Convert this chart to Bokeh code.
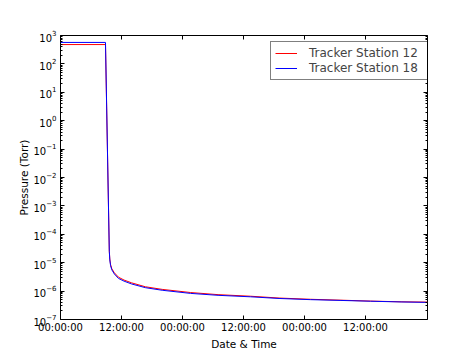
import pandas as pd
from bokeh.plotting import figure
from bokeh.models import (Range1d, LinearAxis, LogAxis, FixedTicker, DatetimeTickFormatter,
                          Legend, LegendItem, ColumnDataSource, CustomJSTickFormatter)
from bokeh.embed import file_html
from bokeh.resources import INLINE

start = pd.Timestamp("2015-03-10 00:00:00")

# Tracker Station 12 (red)
t12_hours = [0.0, 8.85, 9.6, 9.7, 9.85, 10.1, 10.6, 11.4, 12.5, 14.0, 16.7, 20.0, 25.6,
             31.0, 37.4, 43.0, 49.2, 55.0, 61.0, 67.0, 72.2]
p12 = [480, 480, 2.6e-5, 1.35e-5, 8.6e-6, 6.1e-6, 4.4e-6, 3.1e-6, 2.45e-6, 1.95e-6,
       1.42e-6, 1.15e-6, 8.9e-7, 7.5e-7, 6.6e-7, 5.7e-7, 5.15e-7, 4.8e-7, 4.45e-7,
       4.2e-7, 4.1e-7]

# Tracker Station 18 (blue)
t18_hours = [0.0, 8.85, 9.6, 9.7, 9.85, 10.1, 10.6, 11.4, 12.5, 14.0, 16.7, 20.0, 25.6,
             31.0, 37.4, 43.0, 49.2, 55.0, 61.0, 67.0, 72.2]
p18 = [570, 570, 2.5e-5, 1.26e-5, 7.9e-6, 5.6e-6, 4.0e-6, 2.8e-6, 2.24e-6, 1.78e-6,
       1.32e-6, 1.07e-6, 8.3e-7, 7.1e-7, 6.3e-7, 5.5e-7, 5.0e-7, 4.7e-7, 4.4e-7,
       4.15e-7, 4.0e-7]

tick_hours = [0, 12, 24, 36, 48, 60]
y_decades = [1e-7, 1e-6, 1e-5, 1e-4, 1e-3, 1e-2, 1e-1, 1e0, 1e1, 1e2, 1e3]

def to_dt(hours):
    return [start + pd.Timedelta(hours=h) for h in hours]

x_end = start + pd.Timedelta(hours=72.2)

p = figure(width=474, height=355, output_backend="svg", toolbar_location=None,
           x_axis_type="datetime", y_axis_type="log",
           x_range=Range1d(start, x_end), y_range=Range1d(1e-7, 1e3),
           min_border_left=60, min_border_right=47, min_border_top=35, min_border_bottom=36)
p.background_fill_color = "white"
p.border_fill_color = "white"
p.outline_line_color = "black"
p.outline_line_width = 1
p.xgrid.visible = False
p.ygrid.visible = False

s12 = ColumnDataSource(dict(x=to_dt(t12_hours), y=p12))
s18 = ColumnDataSource(dict(x=to_dt(t18_hours), y=p18))
r12 = p.line("x", "y", source=s12, line_color="red", line_width=1)
r18 = p.line("x", "y", source=s18, line_color="blue", line_width=1)

tick_ms = [(start + pd.Timedelta(hours=h)).value / 1e6 for h in tick_hours]
xticker = FixedTicker(ticks=tick_ms)
minor_y = [d * k for d in y_decades[:-1] for k in range(2, 10)]
yticker = FixedTicker(ticks=y_decades, minor_ticks=minor_y)
fmt = DatetimeTickFormatter(seconds="%H:%M:%S", minsec="%H:%M:%S", minutes="%H:%M:%S",
                            hourmin="%H:%M:%S", hours="%H:%M:%S", days="%H:%M:%S",
                            months="%H:%M:%S", years="%H:%M:%S")

font = "DejaVu Sans"

def style(ax):
    ax.major_tick_in = 4
    ax.major_tick_out = 0
    ax.minor_tick_in = 2
    ax.minor_tick_out = 0
    ax.axis_line_color = None
    ax.major_tick_line_color = "black"
    ax.minor_tick_line_color = "black"
    ax.major_label_text_font = font
    ax.major_label_text_font_size = "10px"
    ax.major_label_text_color = "black"
    ax.axis_label_text_font = font
    ax.axis_label_text_font_size = "10.5px"
    ax.axis_label_text_font_style = "normal"
    ax.axis_label_text_color = "black"

xa = p.xaxis[0]
xa.ticker = xticker
xa.formatter = fmt
xa.axis_label = "Date & Time"
xa.major_label_standoff = 2
xa.axis_label_standoff = 2
style(xa)

ya = p.yaxis[0]
ya.ticker = yticker
ya.axis_label = "Pressure (Torr)"
ya.major_label_standoff = 4
ya.axis_label_standoff = 0
style(ya)

blank = CustomJSTickFormatter(code="return ''")
top = LinearAxis(ticker=xticker, formatter=blank)
style(top)
p.add_layout(top, "above")
right = LogAxis(ticker=yticker, formatter=blank)
style(right)
p.add_layout(right, "right")

legend = Legend(items=[LegendItem(label="Tracker Station 12", renderers=[r12]),
                       LegendItem(label="Tracker Station 18", renderers=[r18])],
                location=(210, 239), label_text_font=font, label_text_font_size="12px",
                border_line_color="black", border_line_width=1, background_fill_alpha=1,
                glyph_width=22, glyph_height=14, label_height=14, label_width=114,
                spacing=1, padding=4, label_standoff=12, margin=0)
p.add_layout(legend)

open("out.html", "w").write(file_html(p, INLINE))
